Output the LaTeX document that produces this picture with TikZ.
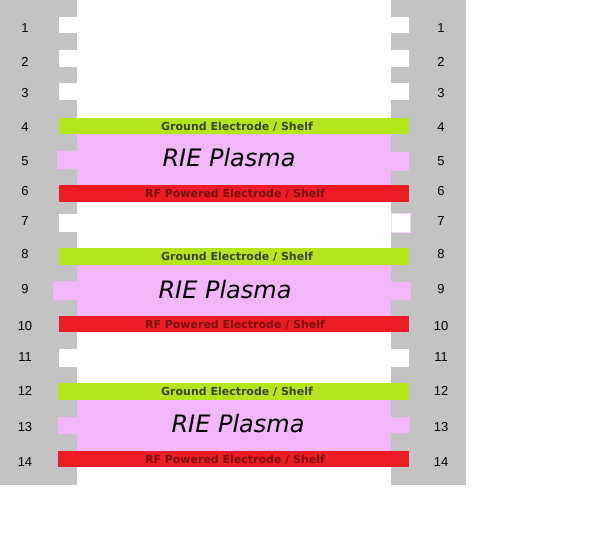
\documentclass[tikz,border=0pt]{standalone}
\usepackage{fontspec}
\newfontfamily\dv{DejaVu Sans}
\newfontfamily\lib{Liberation Sans}
\definecolor{colgray}{HTML}{C3C3C3}
\definecolor{colgreen}{HTML}{B5E61D}
\definecolor{colpink}{HTML}{F1B7F8}
\definecolor{colred}{HTML}{ED1C24}
\definecolor{gtext}{HTML}{3A4618}
\definecolor{rtext}{HTML}{7A1212}
\tikzset{
  numlabel/.style={font=\lib\fontsize{13}{15}\selectfont, text=black, inner sep=0pt},
  gndtext/.style={font=\dv\bfseries\fontsize{11}{13}\selectfont, text=gtext, inner sep=0pt},
  rftext/.style={font=\dv\bfseries\fontsize{11}{13}\selectfont, text=rtext, inner sep=0pt},
  plasmatext/.style={font=\dv\itshape\fontsize{24}{28}\selectfont, text=black, inner sep=0pt},
}
\begin{document}
\begin{tikzpicture}[x=1pt,y=-1pt]
\useasboundingbox (0,0) rectangle (600,538);
% gray columns
\fill[colgray] (0,0) rectangle (77,485);
\fill[colgray] (391,0) rectangle (466,485);
% empty slot notches
\foreach \ya/\yb in {17/33, 50/67, 83/100, 214/232, 349/367}{
  \fill[white] (59,\ya) rectangle (77,\yb);
  \fill[white] (391,\ya) rectangle (409,\yb);
}
\draw[colpink!60, line width=0.8pt] (391.5,213.5) rectangle (410,232.5);
\fill[white] (392,214) rectangle (409.5,232);
% shelf 1
\fill[colgreen] (59,118) rectangle (409,134);
\fill[colpink] (77,134) rectangle (391,185);
\fill[colpink] (57,151) rectangle (77,169);
\fill[colpink] (391,152) rectangle (409,171);
\fill[colred] (59,185) rectangle (409,202);
% shelf 2
\fill[colgreen] (59,248) rectangle (409,265);
\fill[colpink] (77,265) rectangle (391,316);
\fill[colpink] (53,281) rectangle (77,300);
\fill[colpink] (391,282) rectangle (411,300);
\fill[colred] (59,316) rectangle (409,332);
% shelf 3
\fill[colgreen] (58,383) rectangle (409,400);
\fill[colpink] (77,400) rectangle (391,451);
\fill[colpink] (58,417) rectangle (77,434);
\fill[colpink] (391,417) rectangle (410,433);
\fill[colred] (58,451) rectangle (409,467);
% texts
\node[gndtext] (g1) at (237,127) {Ground Electrode / Shelf};
\node[plasmatext] (p1) at (229,158) {RIE Plasma};
\node[rftext] (rf1) at (235,193.5) {RF Powered Electrode / Shelf};
\node[gndtext] (g2) at (237,256.5) {Ground Electrode / Shelf};
\node[plasmatext] (p2) at (225,290) {RIE Plasma};
\node[rftext] (rf2) at (235,324.5) {RF Powered Electrode / Shelf};
\node[gndtext] (g3) at (237,391.5) {Ground Electrode / Shelf};
\node[plasmatext] (p3) at (238,424) {RIE Plasma};
\node[rftext] (rf3) at (235,459.5) {RF Powered Electrode / Shelf};
% slot numbers
\foreach \n/\y in {1/28, 2/62, 3/93, 4/127, 5/161, 6/191, 7/221, 8/254, 9/289, 10/326, 11/357, 12/391, 13/427, 14/462}{
  \node[numlabel] (ln\n) at (25,\y) {\n};
  \node[numlabel] (rn\n) at (441,\y) {\n};
}
\end{tikzpicture}
\end{document}
